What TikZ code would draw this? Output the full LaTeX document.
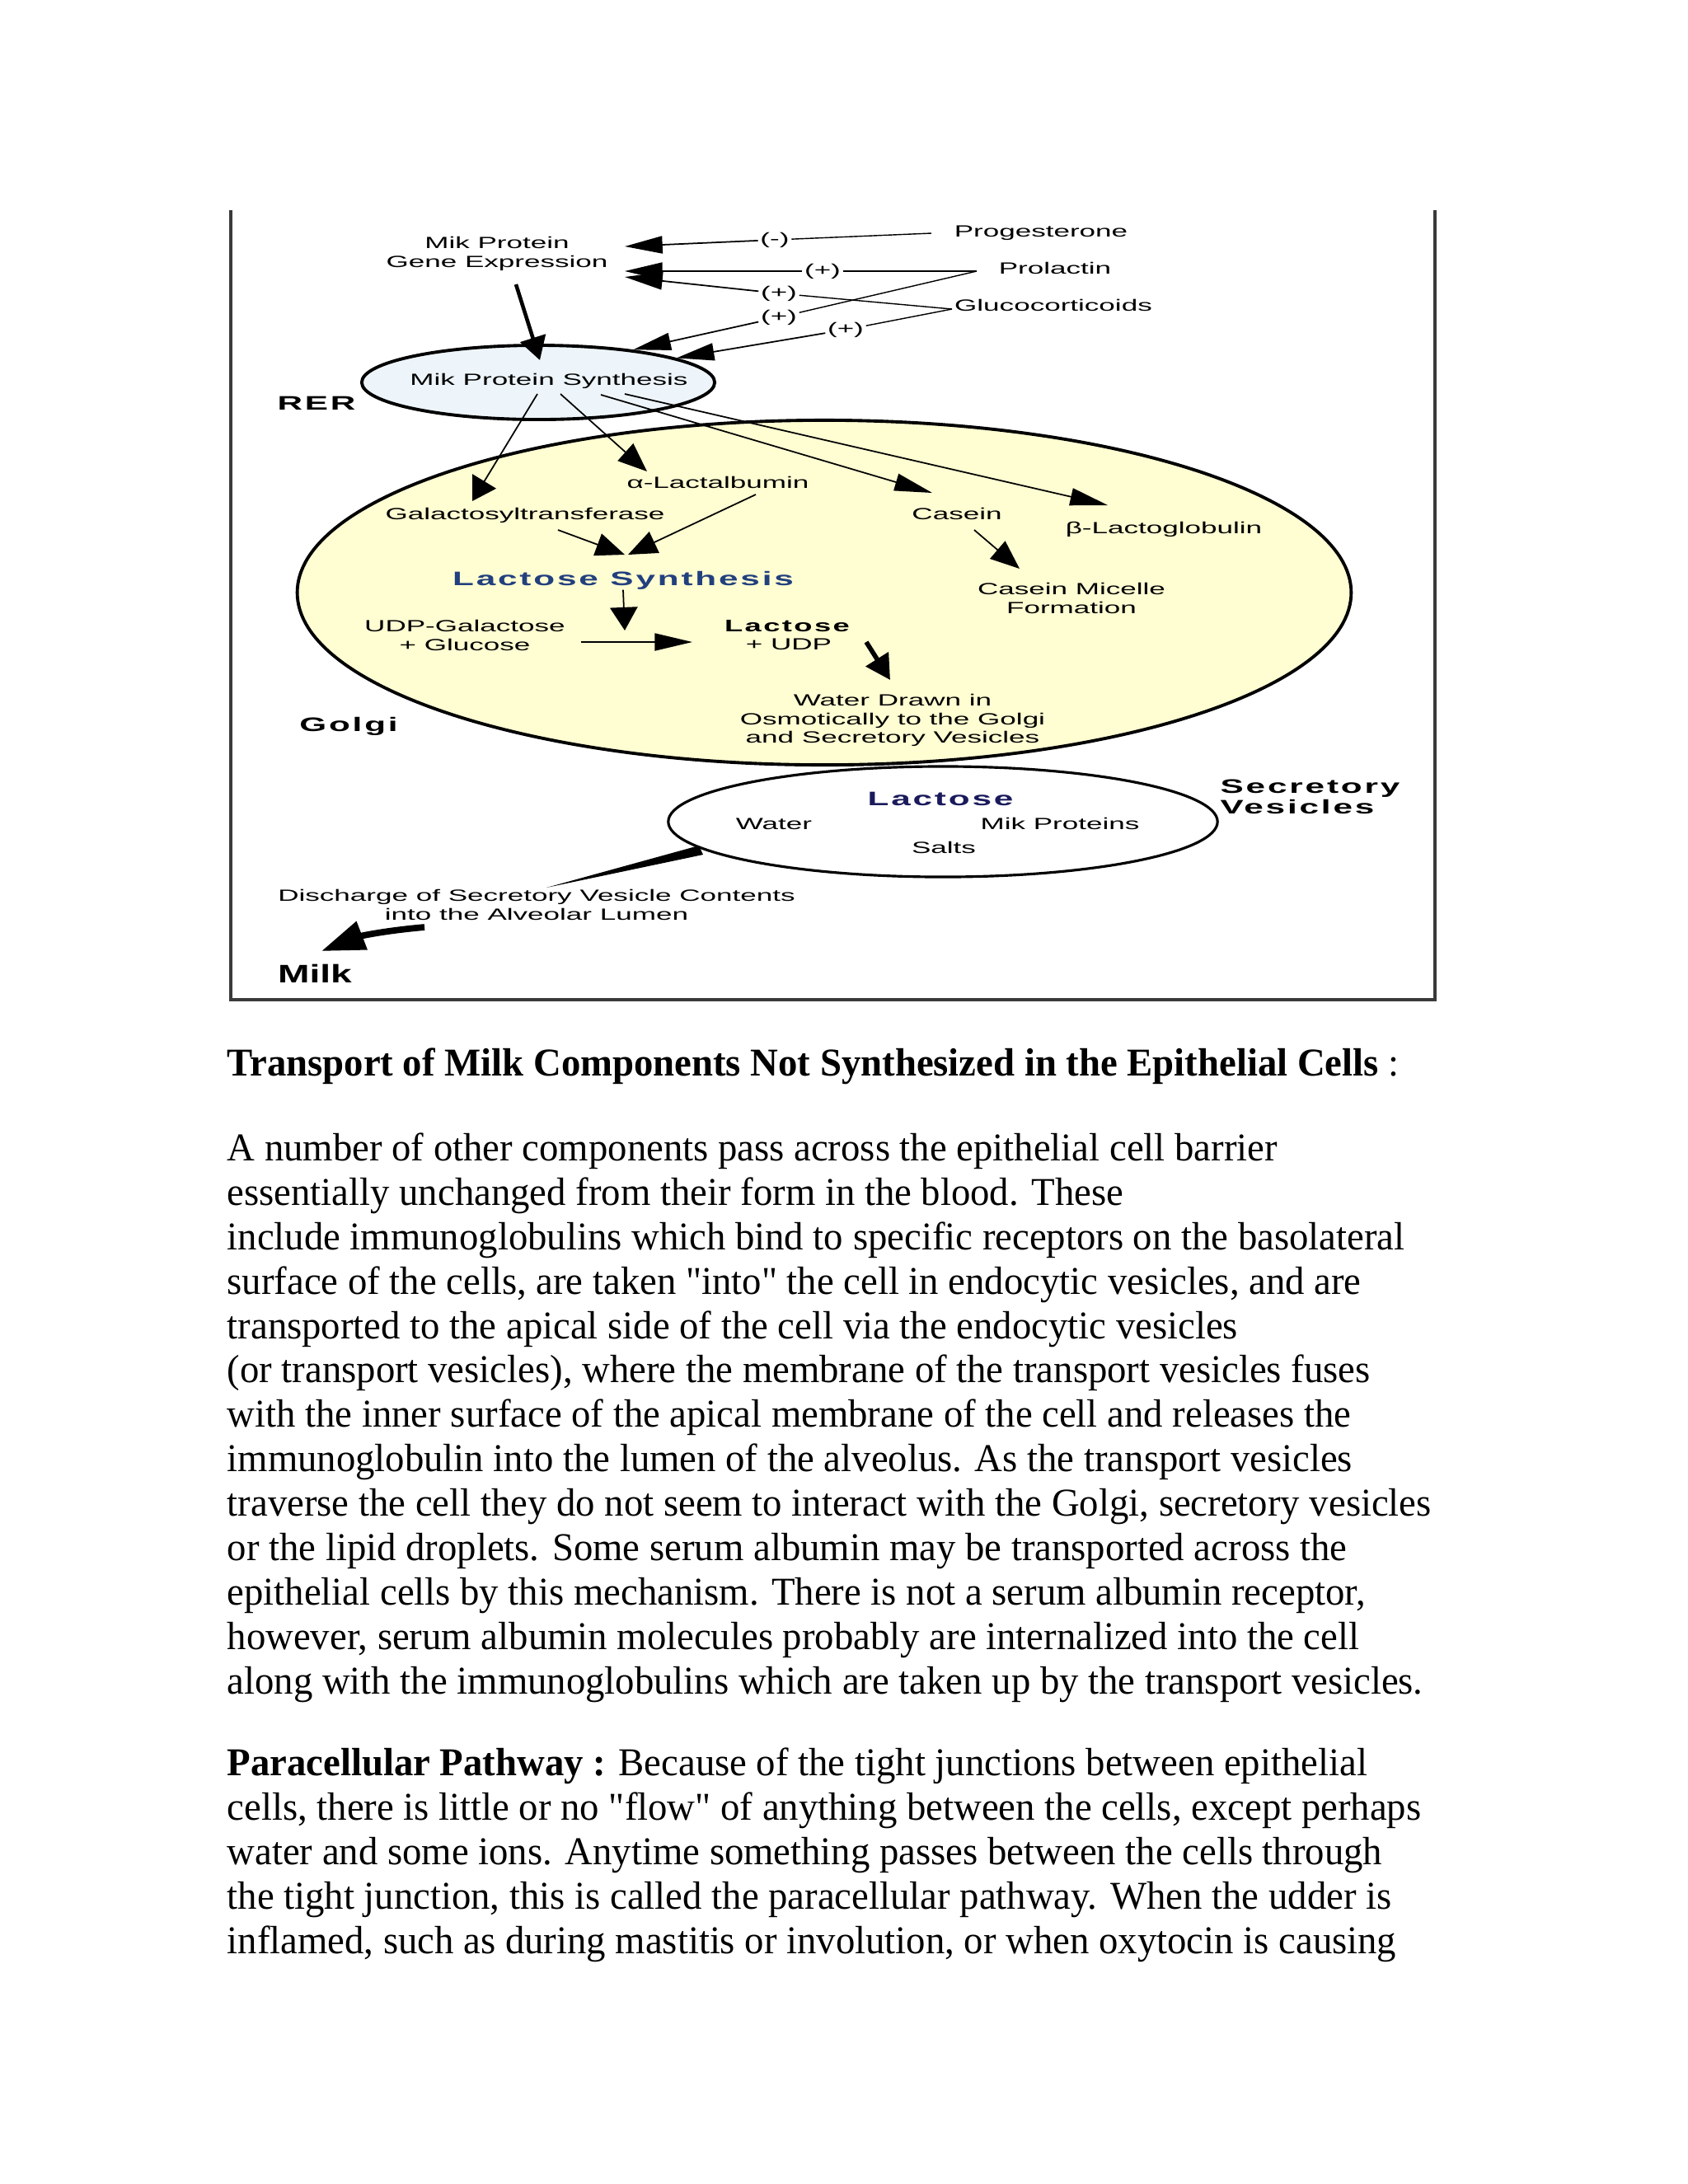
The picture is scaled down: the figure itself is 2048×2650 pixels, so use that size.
\documentclass[tikz,border=0pt]{standalone}
\usepackage{fontspec}
\setmainfont{Liberation Serif}[FakeStretch=0.977, Ligatures=TeXOff]
\newfontfamily\diagfont{Liberation Sans}[FakeStretch=1.78]
\newfontfamily\tagfont{Liberation Sans}[FakeStretch=1.78,LetterSpace=12]
\newfontfamily\milkfont{Liberation Sans}[FakeStretch=1.5]
\usetikzlibrary{arrows.meta,shapes.geometric}
\definecolor{golgiyellow}{HTML}{FFFDD2}
\definecolor{rerblue}{HTML}{EDF5FA}
\definecolor{synthblue}{HTML}{22407E}
\definecolor{navy}{HTML}{1A1A5C}
\definecolor{framegray}{HTML}{3A3A3A}

\begin{document}
\begin{tikzpicture}[x=0.01cm, y=-0.01cm,
    every node/.style={inner sep=0pt},
    txt/.style={font=\diagfont\fontsize{5.6}{6.35}\selectfont, align=center},
    tag/.style={font=\tagfont\bfseries\fontsize{6.75}{7.1}\selectfont, align=left},
    sign/.style={txt, fill=white, inner sep=0.6pt},
    organelle/.style={ellipse, draw, line width=1.1pt},
    harr/.style={-{Triangle[length=13pt,width=6pt]}, line width=0.5pt},
    darr/.style={-{Triangle[length=10pt,width=8pt]}, line width=0.5pt},
    varr/.style={-{Triangle[length=8pt,width=9.5pt]}, line width=0.5pt},
    body/.style={font=\fontsize{13.6}{15.33}\selectfont, align=left, anchor=north west},
]
\path[use as bounding box, fill=white] (0,0) rectangle (2048,2650);

% Frame of the figure
\draw[framegray, line width=0.9pt] (280,255) -- (280,1213) -- (1741,1213) -- (1741,255);

% Organelles
\node[organelle, fill=golgiyellow, minimum width=12.78cm, minimum height=4.18cm] (golgi) at (1000,719) {};
\node[organelle, fill=rerblue, minimum width=4.28cm, minimum height=0.9cm] (rer) at (653,464) {};
\node[organelle, fill=white, line width=0.9pt, minimum width=6.66cm, minimum height=1.34cm] (vesicle) at (1144,997) {};

\node[tag, anchor=base] (rerlabel) at (384,497) {RER};
\node[tag, anchor=base] (golgilabel) at (423,887) {Golgi};
\node[tag, anchor=north west] (seclabel) at (1480,945) {Secretory\\Vesicles};

% Hormonal control
\node[txt, anchor=north] (gene) at (603,287) {Mik Protein\\Gene Expression};
\node[txt, anchor=base] (prog) at (1263,287) {Progesterone};
\node[txt, anchor=base] (prol) at (1280,332) {Prolactin};
\node[txt, anchor=base] (gluco) at (1278,377) {Glucocorticoids};
\node[txt, anchor=base] (synth) at (666,467) {Mik Protein Synthesis};

\coordinate (progend) at (1130,283);
\coordinate (prolend) at (1185,329);
\coordinate (glucoend) at (1155,375);
\coordinate (tip1) at (758,299);
\coordinate (tip2) at (758,329);
\coordinate (tip3) at (758,336);

\node[sign] (s1) at (940,291) {(-)};
\node[sign] (s2) at (998,329) {(+)};
\node[sign] (s3) at (945,356) {(+)};
\node[sign] (s4) at (945,385) {(+)};
\node[sign] (s5) at (1026,400) {(+)};

\draw (progend) -- (s1);
\draw[harr] (s1) -- (tip1);
\draw (prolend) -- (s2);
\draw[harr] (s2) -- (tip2);
\draw (glucoend) -- (s3);
\draw[harr] (s3) -- (tip3);
\draw (prolend) -- (s4);
\draw[harr] (s4) -- (rer.19);
\draw (glucoend) -- (s5);
\draw[harr] (s5) -- (rer.10);

\coordinate (genefoot) at (626,345);
\coordinate (rertop) at (655,437);
\draw[-{Triangle[length=8pt,width=9pt]}, line width=1.3pt] (genefoot) -- (rertop);

% Golgi contents
\node[txt, anchor=base] (galacto) at (637,630) {Galactosyltransferase};
\node[txt, anchor=base] (alpha) at (871,592) {α-Lactalbumin};
\node[txt, anchor=base] (casein) at (1161,630) {Casein};
\node[txt, anchor=base] (beta) at (1412,647) {β-Lactoglobulin};
\node[tag, anchor=base, text=synthblue] (lacsynth) at (756,710) {Lactose Synthesis};
\node[txt, anchor=north] (udpgal) at (564,752) {UDP-Galactose\\+ Glucose};
\node[tag, anchor=base, font=\tagfont\bfseries\fontsize{5.8}{6.5}\selectfont] (lactose) at (955,766) {Lactose};
\node[txt, anchor=base] (udp) at (957,788) {+ UDP};
\node[txt, anchor=north] (micelle) at (1300,707) {Casein Micelle\\Formation};
\node[txt, anchor=north] (waterin) at (1083,842) {Water Drawn in\\Osmotically to the Golgi\\and Secretory Vesicles};

\coordinate (ra) at (652,478);
\coordinate (rb) at (680,478);
\coordinate (rc) at (729,479);
\coordinate (rd) at (758,478);
\coordinate (ea) at (573,608);
\coordinate (eb) at (785,572);
\coordinate (ec) at (1131,598);
\coordinate (ed) at (1344,613);
\draw[varr] (ra) -- (ea);
\draw[darr] (rb) -- (eb);
\draw[harr] (rc) -- (ec);
\draw[harr] (rd) -- (ed);

\coordinate (conv1) at (677,643);
\coordinate (conv2) at (917,600);
\coordinate (convtip1) at (758,673);
\coordinate (convtip2) at (762,673);
\draw[darr] (conv1) -- (convtip1);
\draw[darr] (conv2) -- (convtip2);

\coordinate (lstip) at (758,765);
\draw[varr] (lacsynth.south) -- (lstip);
\coordinate (udpfoot) at (705,779);
\coordinate (udptip) at (840,779);
\draw[harr] (udpfoot) -- (udptip);
\coordinate (lacfoot) at (1051,779);
\coordinate (watertip) at (1080,825);
\draw[-{Triangle[length=8.5pt,width=9pt]}, line width=1.6pt] (lacfoot) -- (watertip);
\coordinate (casfoot) at (1182,643);
\coordinate (micelletip) at (1237,690);
\draw[darr] (casfoot) -- (micelletip);

% Secretory vesicle and discharge
\node[tag, anchor=base, text=navy] (veslactose) at (1141,977) {Lactose};
\node[txt, anchor=base] (water) at (939,1006) {Water};
\node[txt, anchor=base] (milkprot) at (1286,1006) {Mik Proteins};
\node[txt, anchor=base] (salts) at (1145,1035) {Salts};

\node[txt, anchor=north] (discharge) at (651,1079) {Discharge of Secretory Vesicle Contents\\into the Alveolar Lumen};
\fill (663,1077) -- (848,1026) -- (853,1037) -- cycle;

\node[font=\milkfont\bfseries\fontsize{8.75}{10}\selectfont, anchor=base] (milk) at (382,1192) {Milk};
\coordinate (milktail) at (515,1125);
\coordinate (milktip) at (390,1154);
\draw[line width=2.2pt, -{Triangle[length=15pt,width=10pt]}] (milktail) to[bend right=8] (milktip);

% Text below the figure
\node[anchor=base west, font=\fontsize{13.6}{15.33}\selectfont] (heading) at (275,1305)
    {\textbf{Transport of Milk Components Not Synthesized in the Epithelial Cells} :};
\node[body] (para1) at (275,1374) {A number of other components pass across the epithelial cell barrier\\
essentially unchanged from their form in the blood. These\\
include immunoglobulins which bind to specific receptors on the basolateral\\
surface of the cells, are taken "into" the cell in endocytic vesicles, and are\\
transported to the apical side of the cell via the endocytic vesicles\\
(or transport vesicles), where the membrane of the transport vesicles fuses\\
with the inner surface of the apical membrane of the cell and releases the\\
immunoglobulin into the lumen of the alveolus. As the transport vesicles\\
traverse the cell they do not seem to interact with the Golgi, secretory vesicles\\
or the lipid droplets. Some serum albumin may be transported across the\\
epithelial cells by this mechanism. There is not a serum albumin receptor,\\
however, serum albumin molecules probably are internalized into the cell\\
along with the immunoglobulins which are taken up by the transport vesicles.};
\node[body] (para2) at (275,2120) {\textbf{Paracellular Pathway :} Because of the tight junctions between epithelial\\
cells, there is little or no "flow" of anything between the cells, except perhaps\\
water and some ions. Anytime something passes between the cells through\\
the tight junction, this is called the paracellular pathway. When the udder is\\
inflamed, such as during mastitis or involution, or when oxytocin is causing};
\end{tikzpicture}
\end{document}
